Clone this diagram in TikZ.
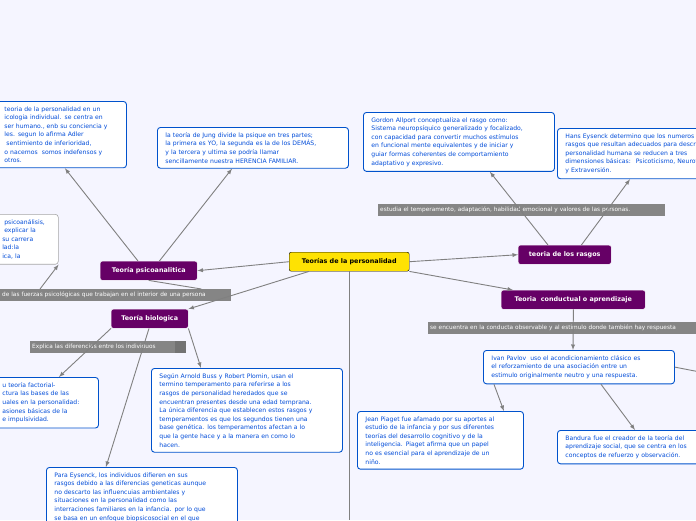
\documentclass[tikz,border=0pt]{standalone}
\usepackage{fontspec}
\setmainfont{DejaVu Sans}
\begin{document}
\begin{tikzpicture}[x=1pt,y=-1pt,
 every node/.style={font=\fontsize{6.1}{8.6}\selectfont},
 txt/.style={draw=blue!60!cyan!80!black, line width=0.9pt, rounded corners=3pt, fill=white, text=blue!65!cyan!85!black, align=left, inner xsep=8pt, inner ysep=5pt, anchor=north west},
 topic/.style={fill=violet!80!black, draw=white, rounded corners=2pt, text=white, font=\fontsize{6.4}{8}\selectfont\bfseries, minimum height=19pt, anchor=north west},
 lab/.style={fill=black!48, text=white, inner sep=2pt, anchor=north west, minimum height=12pt, align=left, font=\fontsize{5.8}{7}\selectfont},
 con/.style={draw=black!50, line width=0.9pt},
 arr/.style={con, -latex}]
\useasboundingbox (0,0) rectangle (696,520);
\fill[blue!4] (0,0) rectangle (696,520);
\clip (0,0) rectangle (696,520);
% topics
\node[topic, fill=yellow!85!orange, draw=black, text=black, minimum width=120pt] (c) at (289,252) {Teorías de la personalidad};
\node[topic, minimum width=97pt] (ps) at (100,261) {Teoría psicoanalitica};
\node[topic, minimum width=77pt] (bi) at (111,309) {Teoría biologica};
\node[topic, minimum width=93pt] (ra) at (518,245) {teoria de los rasgos};
\node[topic, minimum width=144pt] (co) at (501,290) {Teoria \ conductual o aprendizaje};
% labels
\node[lab, text width=227pt] (l1) at (0,289) {de las fuerzas psicológicas que trabajan en el interior de una persona};
\node[lab, text width=141pt] (l2) at (30,341) {Explica las diferencias entre los individuos};
\fill[black!55] (175,341) rectangle (186,353);
\node[lab, text width=283pt] (l3) at (378,204) {estudia el temperamento, adaptación, habilidad emocional y valores de las personas.};
\node[lab, text width=290pt] (l4) at (428,322) {se encuentra en la conducta observable y al estimulo donde también hay respuesta};
% text boxes
\node[txt, text width=130pt] (ad) at (-20,101) {\hspace{16pt}teoria de la personalidad en un\\\hspace{16pt}icologia individual. se centra en\\\hspace{16pt}ser humano., enb su conciencia y\\\hspace{16pt}les. segun lo afirma Adler\\\hspace{16pt} sentimiento de inferioridad,\\\hspace{16pt}o nacemos \ somos indefensos y\\\hspace{16pt}otros.};
\node[txt, text width=175pt] (ju) at (157,127) {la teoría de Jung divide la psique en tres partes;\\la primera es YO, la segunda es la de los DEMÁS,\\y la tercera y ultima se podría llamar\\sencillamente nuestra HERENCIA FAMILIAR.};
\node[txt, draw=black!35, line width=0.6pt, text width=62pt] (pa) at (-20,214) {\hspace{14pt} psicoanálisis,\\\hspace{14pt} explicar la\\\hspace{14pt}su carrera\\\hspace{14pt}lad:la\\\hspace{14pt}ica, la\\ };
\node[txt, text width=102pt] (ef) at (-20,377) {\hspace{14pt}u teoría factorial-\\\hspace{14pt}ctura las bases de las\\\hspace{14pt}uales en la personalidad:\\\hspace{14pt}asiones básicas de la\\\hspace{14pt}e impulsividad.};
\node[txt, text width=175pt] (bu) at (151,368) {Según Arnold Buss y Robert Plomin, usan el\\termino temperamento para referirse a los\\rasgos de personalidad heredados que se\\encuentran presentes desde una edad temprana.\\La única diferencia que establecen estos rasgos y\\temperamentos es que los segundos tienen una\\base genética. los temperamentos afectan a lo\\que la gente hace y a la manera en como lo\\hacen.};
\node[txt, text width=175pt] (pe) at (46,467) {Para Eysenck, los individuos difieren en sus\\rasgos debido a las diferencias geneticas aunque\\no descarto las influencuias ambientales y\\situaciones en la personalidad como las\\interraciones familiares en la infancia. por lo que\\se basa en un enfoque biopsicosocial en el que};
\node[txt, text width=175pt] (al) at (363,112) {Gordon Allport conceptualiza el rasgo como:\\Sistema neuropsíquico generalizado y focalizado,\\con capacidad para convertir muchos estímulos\\en funcional mente equivalentes y de iniciar y\\guiar formas coherentes de comportamiento\\adaptativo y expresivo.};
\node[txt, text width=160pt] (he) at (557,128) {Hans Eysenck determino que los numeros de\\rasgos que resultan adecuados para describir la\\personalidad humana se reducen a tres\\dimensiones básicas: \ Psicoticismo, Neuroticismo\\y Extraversión.};
\node[txt, text width=175pt] (pv) at (483,350) {Ivan Pavlov \ uso el acondicionamiento clásico es\\el reforzamiento de una asociación entre un\\estimulo originalmente neutro y una respuesta.};
\node[txt, text width=150pt] (pi) at (357,411) {Jean Piaget fue afamado por su aportes al\\estudio de la infancia y por sus diferentes\\teorías del desarrollo cognitivo y de la\\inteligencia. Piaget afirma que un papel\\no es esencial para el aprendizaje de un\\niño.};
\node[txt, text width=150pt] (ba) at (557,430) {Bandura fue el creador de la teoría del\\aprendizaje social, que se centra en los\\conceptos de refuerzo y observación.};
% connectors
\draw[arr] (c.west) -- (ps.east);
\draw[arr] (c.east) -- (ra.west);
\draw[arr] (c.south east) -- ([xshift=12pt]co.north west);
\draw[arr] ([xshift=20pt]c.south west) -- (bi.north east);
\draw[con] (349,271) -- (349,520);
\draw[con] (ps.south) -- ([xshift=-30pt]l1.north east);
\draw[arr] ([xshift=40pt]l1.north west) -- (pa.south east);
\draw[arr] ([xshift=38pt]ps.north west) -- ([xshift=-62pt]ad.south east);
\draw[arr] ([xshift=-38pt]ps.north east) -- ([xshift=75pt]ju.south west);
\draw[arr] ([xshift=38pt]bi.south west) -- ([xshift=-36pt]pe.north);
\draw[arr] (bi.south west) -- ([xshift=-40pt]ef.north east);
\draw[arr] (bi.south east) -- ([xshift=50pt]bu.north west);
\draw[arr] ([xshift=30pt]ra.north west) -- ([xshift=-65pt]al.south east);
\draw[arr] ([xshift=-30pt]ra.north east) -- ([xshift=73pt]he.south west);
\draw[arr] ([xshift=-72pt]co.south east) -- ([xshift=90pt]pv.north west);
\draw[arr] ([xshift=-85pt]pv.south) -- ([xshift=-20pt]pi.north east);
\draw[arr] ([xshift=22pt]pv.south) -- ([xshift=78pt]ba.north west);
\draw[con] (pv.east) -- (700,372);
\end{tikzpicture}
\end{document}
